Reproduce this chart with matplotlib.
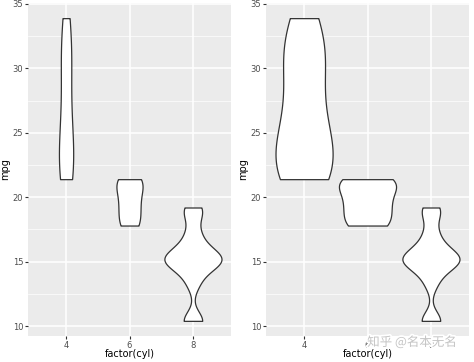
import numpy as np
import matplotlib
matplotlib.use("Agg")
import matplotlib.pyplot as plt
import matplotlib.patheffects as pe
from matplotlib import cbook

# mtcars mpg grouped by cyl
cyl_labels = ["4", "6", "8"]
mpg_4 = [22.8, 24.4, 22.8, 32.4, 30.4, 33.9, 21.5, 27.3, 26.0, 30.4, 21.4]
mpg_6 = [21.0, 21.0, 21.4, 18.1, 19.2, 17.8, 19.7]
mpg_8 = [18.7, 14.3, 16.4, 17.3, 15.2, 10.4, 10.4, 14.7, 15.5, 15.2, 13.3,
         19.2, 15.8, 15.0]
y_ticks = [10, 15, 20, 25, 30, 35]

groups = [np.array(mpg_4), np.array(mpg_6), np.array(mpg_8)]


def kde_nrd0(x, coords):
    # gaussian kde with R's bw.nrd0, like ggplot's stat_ydensity
    n = len(x)
    sd = np.std(x, ddof=1)
    iqr = np.percentile(x, 75) - np.percentile(x, 25)
    bw = 0.9 * min(sd, iqr / 1.34) * n ** -0.2
    z = (coords[:, None] - x[None, :]) / bw
    return np.exp(-0.5 * z ** 2).sum(axis=1) / (n * bw * np.sqrt(2 * np.pi))


stats = cbook.violin_stats(groups, kde_nrd0, points=512)
peaks = [s["vals"].max() for s in stats]
counts = [len(g) for g in groups]
# left: widths scaled by density and group size, right: all the same width
count_widths = [0.9 * p / max(peaks) * n / max(counts)
                for p, n in zip(peaks, counts)]
equal_widths = [0.9] * len(groups)

W, H = 474, 362
fig = plt.figure(figsize=(W / 100, H / 100), dpi=100)
fig.patch.set_facecolor("white")


def panel(left, widths):
    ax = fig.add_axes([left / W, (H - 336) / H, 203 / W, 333 / H])
    ax.set_facecolor("#EBEBEB")
    lo, hi = 10.4, 33.9
    pad = (hi - lo) * 0.05
    ax.set_ylim(lo - pad, hi + pad)
    ax.set_xlim(0.4, 3.6)
    ax.set_yticks(y_ticks)
    ax.set_yticks([12.5, 17.5, 22.5, 27.5, 32.5], minor=True)
    ax.set_xticks([1, 2, 3])
    ax.set_xticklabels(cyl_labels)
    ax.grid(which="major", color="white", linewidth=1.1)
    ax.grid(which="minor", axis="y", color="white", linewidth=0.5)
    ax.set_axisbelow(True)
    for sp in ax.spines.values():
        sp.set_visible(False)
    ax.tick_params(which="major", length=2.5, width=0.8, color="#333333",
                   labelsize=6, labelcolor="#4D4D4D", pad=1)
    ax.tick_params(which="minor", length=0)
    ax.set_xlabel("factor(cyl)", fontsize=7)
    ax.set_ylabel("mpg", fontsize=7)
    ax.xaxis.set_label_coords(0.5, -0.04)
    ax.xaxis.label.set_va("top")
    ax.yaxis.set_label_coords(-0.088, 0.5)

    parts = ax.violin(stats, positions=[1, 2, 3], widths=widths,
                      showmeans=False, showextrema=False, showmedians=False)
    for body in parts["bodies"]:
        body.set_facecolor("white")
        body.set_edgecolor("#333333")
        body.set_alpha(1)
        body.set_linewidth(0.9)
        body.set_zorder(3)
    return ax


ax1 = panel(28, count_widths)
ax2 = panel(266, equal_widths)

fig.text(412 / W, 1 - 342 / H, "知乎 @名本无名", fontsize=9, color="#C4C4C4",
         ha="center", va="center",
         family=["Noto Sans CJK SC", "DejaVu Sans"], zorder=10,
         path_effects=[pe.withStroke(linewidth=2.5, foreground="white")])

fig.savefig("out.png", dpi=100)
